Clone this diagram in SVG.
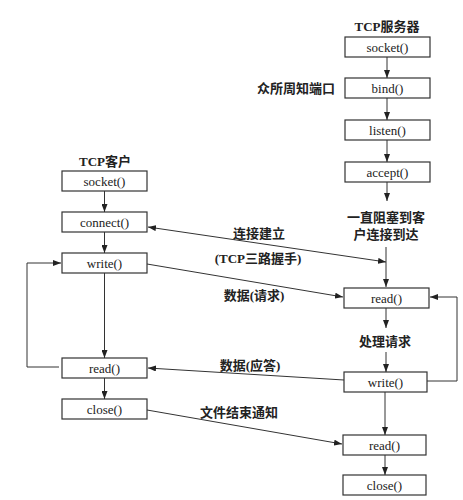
<svg xmlns="http://www.w3.org/2000/svg" width="463" height="500" viewBox="0 0 463 500">
<style>
.box{fill:#fff;stroke:#333;stroke-width:1.2}
.bt{font-family:"Liberation Serif","Noto Sans CJK SC",serif;font-size:13px;fill:#222;text-anchor:middle}
.lb{font-family:"Liberation Serif","Noto Sans CJK SC",serif;font-size:13px;fill:#222;text-anchor:middle;font-weight:bold}
.ln{fill:none;stroke:#333;stroke-width:1}
</style>
<defs>
<marker id="ah" viewBox="0 0 8 6" refX="8" refY="3" markerWidth="8" markerHeight="6" markerUnits="userSpaceOnUse" orient="auto-start-reverse">
<path d="M0,0 L8,3 L0,6 z" fill="#222"/>
</marker>
</defs>
<rect width="463" height="500" fill="#fff"/>
<text class="lb" x="387" y="31">TCP服务器</text>
<text class="lb" x="105" y="166">TCP客户</text>
<text class="lb" x="296" y="93">众所周知端口</text>
<text class="lb" x="386" y="222">一直阻塞到客</text>
<text class="lb" x="386" y="239">户连接到达</text>
<text class="lb" x="259" y="238">连接建立</text>
<text class="lb" x="258" y="263">(TCP三路握手)</text>
<text class="lb" x="254" y="300">数据(请求)</text>
<text class="lb" x="385" y="346">处理请求</text>
<text class="lb" x="250" y="370">数据(应答)</text>
<text class="lb" x="239" y="417">文件结束通知</text>
<g id="c_socket"><rect class="box" x="62" y="171" width="85" height="20"/><text class="bt" x="104.5" y="185.5">socket()</text></g>
<g id="c_connect"><rect class="box" x="62" y="212" width="85" height="20"/><text class="bt" x="104.5" y="226.5">connect()</text></g>
<g id="c_write"><rect class="box" x="62" y="253" width="85" height="20"/><text class="bt" x="104.5" y="267.5">write()</text></g>
<g id="c_read"><rect class="box" x="62" y="358" width="85" height="20"/><text class="bt" x="104.5" y="372.5">read()</text></g>
<g id="c_close"><rect class="box" x="62" y="399" width="85" height="20"/><text class="bt" x="104.5" y="413.5">close()</text></g>
<g id="s_socket"><rect class="box" x="345" y="37" width="85" height="20"/><text class="bt" x="387.5" y="51.5">socket()</text></g>
<g id="s_bind"><rect class="box" x="345" y="78" width="85" height="20"/><text class="bt" x="387.5" y="92.5">bind()</text></g>
<g id="s_listen"><rect class="box" x="345" y="120" width="85" height="20"/><text class="bt" x="387.5" y="134.5">listen()</text></g>
<g id="s_accept"><rect class="box" x="345" y="162" width="85" height="20"/><text class="bt" x="387.5" y="176.5">accept()</text></g>
<g id="s_read"><rect class="box" x="344" y="288" width="85" height="20"/><text class="bt" x="386.5" y="302.5">read()</text></g>
<g id="s_write"><rect class="box" x="344" y="372" width="83" height="20"/><text class="bt" x="385.5" y="386.5">write()</text></g>
<g id="s_read2"><rect class="box" x="343" y="435" width="83" height="20"/><text class="bt" x="384.5" y="449.5">read()</text></g>
<g id="s_close"><rect class="box" x="343" y="475" width="83" height="20"/><text class="bt" x="384.5" y="489.5">close()</text></g>
<g id="connectors">
<line class="ln" x1="104.5" y1="191" x2="104.5" y2="212" marker-end="url(#ah)"/>
<line class="ln" x1="104.5" y1="232" x2="104.5" y2="253" marker-end="url(#ah)"/>
<line class="ln" x1="104.5" y1="273" x2="104.5" y2="358" marker-end="url(#ah)"/>
<line class="ln" x1="104.5" y1="378" x2="104.5" y2="399" marker-end="url(#ah)"/>
<path class="ln" d="M59,367 H27 V263 H61" marker-end="url(#ah)"/>
<line class="ln" x1="387" y1="57" x2="387" y2="78" marker-end="url(#ah)"/>
<line class="ln" x1="387" y1="98" x2="387" y2="120" marker-end="url(#ah)"/>
<line class="ln" x1="387" y1="140" x2="387" y2="162" marker-end="url(#ah)"/>
<line class="ln" x1="387" y1="182" x2="387" y2="201" marker-end="url(#ah)"/>
<line class="ln" x1="386" y1="247" x2="386" y2="287" marker-end="url(#ah)"/>
<line class="ln" x1="386" y1="262" x2="148" y2="227" marker-start="url(#ah)" marker-end="url(#ah)"/>
<line class="ln" x1="147" y1="264" x2="343" y2="297" marker-end="url(#ah)"/>
<line class="ln" x1="386" y1="308" x2="386" y2="328" marker-end="url(#ah)"/>
<line class="ln" x1="386" y1="352" x2="386" y2="372" marker-end="url(#ah)"/>
<path class="ln" d="M427,381 H457 V297 H430" marker-end="url(#ah)"/>
<line class="ln" x1="344" y1="380" x2="148" y2="368" marker-end="url(#ah)"/>
<line class="ln" x1="385" y1="392" x2="385" y2="435" marker-end="url(#ah)"/>
<line class="ln" x1="385" y1="455" x2="385" y2="475" marker-end="url(#ah)"/>
<line class="ln" x1="147" y1="410" x2="342" y2="444" marker-end="url(#ah)"/>
</g>
</svg>
